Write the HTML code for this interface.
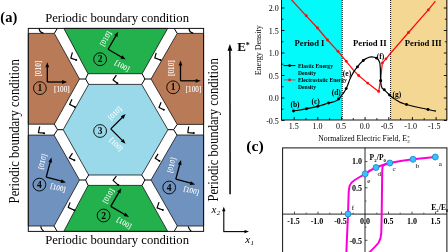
<!DOCTYPE html>
<html><head><meta charset="utf-8"><title>Figure</title>
<style>html,body{margin:0;padding:0;background:#fff;overflow:hidden}svg{display:block}text{font-family:"Liberation Serif",serif}</style>
</head><body>
<svg width="448" height="252" viewBox="0 0 448 252">
<rect width="448" height="252" fill="#fff"/>
<polygon points="28.3,33.4 54.3,33.4 79.5,79.0 54.3,124.2 28.3,124.2" fill="#B97A57" stroke="#111" stroke-width="0.8"/>
<polygon points="203.6,33.4 177.2,33.4 151.0,79.0 177.2,124.4 203.6,124.4" fill="#B97A57" stroke="#111" stroke-width="0.8"/>
<polygon points="63.8,28.4 167.7,28.4 142.1,73.7 88.0,73.7" fill="#22B14C" stroke="#111" stroke-width="0.8"/>
<polygon points="88.7,84.4 141.7,84.4 167.9,129.7 141.7,175.0 88.7,175.0 63.2,129.7" fill="#99D9EA" stroke="#111" stroke-width="0.8"/>
<polygon points="28.3,135.1 54.0,135.1 79.5,180.0 54.0,226.0 28.3,226.0" fill="#7092BE" stroke="#111" stroke-width="0.8"/>
<polygon points="203.6,135.0 177.0,135.0 151.0,180.0 177.3,226.0 203.6,226.0" fill="#7092BE" stroke="#111" stroke-width="0.8"/>
<polygon points="88.1,185.4 142.0,185.4 167.7,231.4 63.8,231.4" fill="#22B14C" stroke="#111" stroke-width="0.8"/>
<line x1="79.5" y1="79.0" x2="85.6" y2="79.0" stroke="#000" stroke-width="1.0" />
<line x1="88.0" y1="73.7" x2="85.6" y2="79.0" stroke="#000" stroke-width="1.0" />
<line x1="88.7" y1="84.4" x2="85.6" y2="79.0" stroke="#000" stroke-width="1.0" />
<line x1="151.0" y1="79.0" x2="144.9" y2="79.0" stroke="#000" stroke-width="1.0" />
<line x1="142.1" y1="73.7" x2="144.9" y2="79.0" stroke="#000" stroke-width="1.0" />
<line x1="141.7" y1="84.4" x2="144.9" y2="79.0" stroke="#000" stroke-width="1.0" />
<line x1="79.5" y1="180.0" x2="85.6" y2="180.0" stroke="#000" stroke-width="1.0" />
<line x1="88.7" y1="175.0" x2="85.6" y2="180.0" stroke="#000" stroke-width="1.0" />
<line x1="88.1" y1="185.4" x2="85.6" y2="180.0" stroke="#000" stroke-width="1.0" />
<line x1="151.0" y1="180.0" x2="144.9" y2="180.0" stroke="#000" stroke-width="1.0" />
<line x1="141.7" y1="175.0" x2="144.9" y2="180.0" stroke="#000" stroke-width="1.0" />
<line x1="142.0" y1="185.4" x2="144.9" y2="180.0" stroke="#000" stroke-width="1.0" />
<line x1="63.2" y1="129.7" x2="57.5" y2="129.7" stroke="#000" stroke-width="1.0" />
<line x1="54.3" y1="124.2" x2="57.5" y2="129.7" stroke="#000" stroke-width="1.0" />
<line x1="54.0" y1="135.1" x2="57.5" y2="129.7" stroke="#000" stroke-width="1.0" />
<line x1="167.9" y1="129.7" x2="173.6" y2="129.7" stroke="#000" stroke-width="1.0" />
<line x1="177.2" y1="124.4" x2="173.6" y2="129.7" stroke="#000" stroke-width="1.0" />
<line x1="177.0" y1="135.0" x2="173.6" y2="129.7" stroke="#000" stroke-width="1.0" />
<line x1="54.3" y1="33.4" x2="57.3" y2="28.4" stroke="#000" stroke-width="1.0" />
<line x1="177.2" y1="33.4" x2="174.2" y2="28.4" stroke="#000" stroke-width="1.0" />
<line x1="54.0" y1="226.0" x2="57.2" y2="231.4" stroke="#000" stroke-width="1.0" />
<line x1="177.3" y1="226.0" x2="174.1" y2="231.4" stroke="#000" stroke-width="1.0" />
<rect x="28.3" y="28.4" width="175.3" height="203.0" fill="none" stroke="#111" stroke-width="1"/>
<polyline points="72.4,52.4 70.8,58.1 76.2,60.0" fill="none" stroke="#000" stroke-width="1.2" stroke-linejoin="round"/>
<circle cx="76.2" cy="60.0" r="1.0" fill="#000"/>
<polyline points="156.2,52.9 154.8,57.9 160.5,60.0" fill="none" stroke="#000" stroke-width="1.2" stroke-linejoin="round"/>
<circle cx="160.5" cy="60.0" r="1.0" fill="#000"/>
<polyline points="116.4,75.1 113.1,79.9 117.4,83.2" fill="none" stroke="#000" stroke-width="1.2" stroke-linejoin="round"/>
<circle cx="117.4" cy="83.2" r="1.0" fill="#000"/>
<polyline points="72.0,99.2 69.6,104.4 74.9,107.0" fill="none" stroke="#000" stroke-width="1.2" stroke-linejoin="round"/>
<circle cx="74.9" cy="107.0" r="1.0" fill="#000"/>
<polyline points="161.1,102.3 159.0,107.5 163.8,109.7" fill="none" stroke="#000" stroke-width="1.2" stroke-linejoin="round"/>
<circle cx="163.8" cy="109.7" r="1.0" fill="#000"/>
<polyline points="39.7,126.5 38.4,132.6 44.1,133.2" fill="none" stroke="#000" stroke-width="1.2" stroke-linejoin="round"/>
<circle cx="44.1" cy="133.2" r="1.0" fill="#000"/>
<polyline points="188.7,126.5 187.8,132.6 193.8,133.1" fill="none" stroke="#000" stroke-width="1.2" stroke-linejoin="round"/>
<circle cx="193.8" cy="133.1" r="1.0" fill="#000"/>
<polyline points="72.5,153.1 69.3,157.9 74.4,160.2" fill="none" stroke="#000" stroke-width="1.2" stroke-linejoin="round"/>
<circle cx="74.4" cy="160.2" r="1.0" fill="#000"/>
<polyline points="158.1,153.8 155.2,158.3 159.5,161.0" fill="none" stroke="#000" stroke-width="1.2" stroke-linejoin="round"/>
<circle cx="159.5" cy="161.0" r="1.0" fill="#000"/>
<polyline points="116.4,176.1 113.1,180.4 118.3,185.1" fill="none" stroke="#000" stroke-width="1.2" stroke-linejoin="round"/>
<circle cx="118.3" cy="185.1" r="1.0" fill="#000"/>
<polyline points="70.1,202.4 68.2,207.4 74.4,210.2" fill="none" stroke="#000" stroke-width="1.2" stroke-linejoin="round"/>
<circle cx="74.4" cy="210.2" r="1.0" fill="#000"/>
<polyline points="159.0,202.1 157.1,207.9 162.9,210.0" fill="none" stroke="#000" stroke-width="1.2" stroke-linejoin="round"/>
<circle cx="162.9" cy="210.0" r="1.0" fill="#000"/>
<path d="M39.2,28.6 Q39.6,32.6 43.5,33.1" fill="none" stroke="#000" stroke-width="1.2"/>
<path d="M189,28.6 Q189.4,32.6 193.3,33.1" fill="none" stroke="#000" stroke-width="1.2"/>
<path d="M40.6,226.4 Q41.4,229.6 43.6,231.2" fill="none" stroke="#000" stroke-width="1.2"/>
<path d="M188.2,226.4 Q189,229.6 191.2,231.2" fill="none" stroke="#000" stroke-width="1.2"/>
<line x1="47.3" y1="82.0" x2="62.6" y2="82.0" stroke="#000" stroke-width="1.3" />
<polygon points="67.1,82.0 62.1,83.9 62.1,80.1" fill="#000"/>
<line x1="47.3" y1="82.0" x2="47.3" y2="66.7" stroke="#000" stroke-width="1.3" />
<polygon points="47.3,62.2 49.2,67.2 45.4,67.2" fill="#000"/>
<circle cx="39.9" cy="88.1" r="6.4" fill="none" stroke="#000" stroke-width="0.9"/>
<text x="39.9" y="91.2" font-size="9.5" text-anchor="middle" font-weight="bold" font-style="normal" fill="#000" >1</text>
<text x="40.9" y="68.6" font-size="7.2" text-anchor="middle" font-weight="normal" font-style="normal" fill="#fff" transform="rotate(-90 40.9 68.6)" stroke="#fff" stroke-width="0.1">[010]</text>
<text x="61.9" y="91.5" font-size="7.2" text-anchor="middle" font-weight="normal" font-style="normal" fill="#fff" transform="rotate(0 61.9 91.5)" stroke="#fff" stroke-width="0.1">[100]</text>
<line x1="180.5" y1="80.8" x2="196.2" y2="80.8" stroke="#000" stroke-width="1.3" />
<polygon points="200.7,80.8 195.7,82.7 195.7,78.9" fill="#000"/>
<line x1="180.5" y1="80.8" x2="180.5" y2="65.1" stroke="#000" stroke-width="1.3" />
<polygon points="180.5,60.6 182.4,65.6 178.6,65.6" fill="#000"/>
<circle cx="173.1" cy="87.3" r="6.4" fill="none" stroke="#000" stroke-width="0.9"/>
<text x="173.1" y="90.4" font-size="9.5" text-anchor="middle" font-weight="bold" font-style="normal" fill="#000" >1</text>
<text x="173.9" y="68.1" font-size="7.2" text-anchor="middle" font-weight="normal" font-style="normal" fill="#fff" transform="rotate(-90 173.9 68.1)" stroke="#fff" stroke-width="0.1">[010]</text>
<text x="193.5" y="91.5" font-size="7.2" text-anchor="middle" font-weight="normal" font-style="normal" fill="#fff" transform="rotate(0 193.5 91.5)" stroke="#fff" stroke-width="0.1">[100]</text>
<line x1="108.1" y1="49.3" x2="121.8" y2="57.2" stroke="#000" stroke-width="1.3" />
<polygon points="125.7,59.4 120.4,58.6 122.3,55.3" fill="#000"/>
<line x1="108.1" y1="49.3" x2="116.0" y2="35.6" stroke="#000" stroke-width="1.3" />
<polygon points="118.2,31.7 117.4,37.0 114.1,35.1" fill="#000"/>
<circle cx="100.1" cy="59.2" r="6.4" fill="none" stroke="#000" stroke-width="0.9"/>
<text x="100.1" y="62.3" font-size="9.5" text-anchor="middle" font-weight="bold" font-style="normal" fill="#000" >2</text>
<text x="107.7" y="39.9" font-size="7.2" text-anchor="middle" font-weight="normal" font-style="normal" fill="#fff" transform="rotate(-60 107.7 39.9)" stroke="#fff" stroke-width="0.1">[010]</text>
<text x="121.0" y="67.9" font-size="7.2" text-anchor="middle" font-weight="normal" font-style="normal" fill="#fff" transform="rotate(30 121.0 67.9)" stroke="#fff" stroke-width="0.1">[100]</text>
<line x1="110.8" y1="128.9" x2="122.5" y2="140.6" stroke="#000" stroke-width="1.3" />
<polygon points="125.6,143.7 120.8,141.6 123.5,138.9" fill="#000"/>
<line x1="110.8" y1="128.9" x2="122.5" y2="117.2" stroke="#000" stroke-width="1.3" />
<polygon points="125.6,114.1 123.5,118.9 120.8,116.2" fill="#000"/>
<circle cx="100.1" cy="131.0" r="6.4" fill="none" stroke="#000" stroke-width="0.9"/>
<text x="100.1" y="134.1" font-size="9.5" text-anchor="middle" font-weight="bold" font-style="normal" fill="#000" >3</text>
<text x="116.6" y="115.0" font-size="7.2" text-anchor="middle" font-weight="normal" font-style="normal" fill="#fff" transform="rotate(-45 116.6 115.0)" stroke="#fff" stroke-width="0.1">[010]</text>
<text x="114.4" y="146.0" font-size="7.2" text-anchor="middle" font-weight="normal" font-style="normal" fill="#fff" transform="rotate(45 114.4 146.0)" stroke="#fff" stroke-width="0.1">[100]</text>
<line x1="46.2" y1="177.1" x2="61.6" y2="181.2" stroke="#000" stroke-width="1.3" />
<polygon points="65.9,182.4 60.6,182.9 61.6,179.3" fill="#000"/>
<line x1="46.2" y1="177.1" x2="50.3" y2="161.7" stroke="#000" stroke-width="1.3" />
<polygon points="51.5,157.4 52.0,162.7 48.4,161.7" fill="#000"/>
<circle cx="39.4" cy="184.6" r="6.4" fill="none" stroke="#000" stroke-width="0.9"/>
<text x="39.4" y="187.7" font-size="9.5" text-anchor="middle" font-weight="bold" font-style="normal" fill="#000" >4</text>
<text x="44.8" y="162.3" font-size="7.2" text-anchor="middle" font-weight="normal" font-style="normal" fill="#fff" transform="rotate(-75 44.8 162.3)" stroke="#fff" stroke-width="0.1">[010]</text>
<text x="57.4" y="190.1" font-size="7.2" text-anchor="middle" font-weight="normal" font-style="normal" fill="#fff" transform="rotate(15 57.4 190.1)" stroke="#fff" stroke-width="0.1">[100]</text>
<line x1="175.8" y1="179.2" x2="190.8" y2="183.2" stroke="#000" stroke-width="1.3" />
<polygon points="195.1,184.4 189.8,184.9 190.8,181.2" fill="#000"/>
<line x1="175.8" y1="179.2" x2="179.8" y2="164.2" stroke="#000" stroke-width="1.3" />
<polygon points="181.0,159.9 181.5,165.2 177.8,164.2" fill="#000"/>
<circle cx="169.2" cy="187.5" r="6.4" fill="none" stroke="#000" stroke-width="0.9"/>
<text x="169.2" y="190.6" font-size="9.5" text-anchor="middle" font-weight="bold" font-style="normal" fill="#000" >4</text>
<text x="173.9" y="165.8" font-size="7.2" text-anchor="middle" font-weight="normal" font-style="normal" fill="#fff" transform="rotate(-75 173.9 165.8)" stroke="#fff" stroke-width="0.1">[010]</text>
<text x="190.7" y="192.8" font-size="7.2" text-anchor="middle" font-weight="normal" font-style="normal" fill="#fff" transform="rotate(15 190.7 192.8)" stroke="#fff" stroke-width="0.1">[100]</text>
<line x1="110.8" y1="206.4" x2="125.1" y2="214.7" stroke="#000" stroke-width="1.3" />
<polygon points="129.0,216.9 123.7,216.0 125.6,212.8" fill="#000"/>
<line x1="110.8" y1="206.4" x2="119.0" y2="192.1" stroke="#000" stroke-width="1.3" />
<polygon points="121.3,188.2 120.4,193.5 117.2,191.6" fill="#000"/>
<circle cx="103.6" cy="215.5" r="6.4" fill="none" stroke="#000" stroke-width="0.9"/>
<text x="103.6" y="218.6" font-size="9.5" text-anchor="middle" font-weight="bold" font-style="normal" fill="#000" >2</text>
<text x="110.5" y="197.2" font-size="7.2" text-anchor="middle" font-weight="normal" font-style="normal" fill="#fff" transform="rotate(-60 110.5 197.2)" stroke="#fff" stroke-width="0.1">[010]</text>
<text x="123.0" y="225.0" font-size="7.2" text-anchor="middle" font-weight="normal" font-style="normal" fill="#fff" transform="rotate(30 123.0 225.0)" stroke="#fff" stroke-width="0.1">[100]</text>
<text x="0.3" y="22.0" font-size="14.5" text-anchor="start" font-weight="bold" font-style="normal" fill="#000" >(a)</text>
<text x="45.2" y="21.9" font-size="13.5" text-anchor="start" font-weight="normal" font-style="normal" fill="#000" textLength="143.8" lengthAdjust="spacingAndGlyphs">Periodic boundary condition</text>
<text x="45.2" y="243.9" font-size="13.5" text-anchor="start" font-weight="normal" font-style="normal" fill="#000" textLength="143.8" lengthAdjust="spacingAndGlyphs">Periodic boundary condition</text>
<text x="18.9" y="203.4" font-size="14.2" text-anchor="start" font-weight="normal" font-style="normal" fill="#000" transform="rotate(-90 18.9 203.4)" textLength="144.2" lengthAdjust="spacingAndGlyphs">Periodic boundary condition</text>
<text x="217.9" y="201.6" font-size="14.2" text-anchor="start" font-weight="normal" font-style="normal" fill="#000" transform="rotate(-90 217.9 201.6)" textLength="143.3" lengthAdjust="spacingAndGlyphs">Periodic boundary condition</text>
<line x1="230.1" y1="194.3" x2="229.9" y2="50.3" stroke="#000" stroke-width="1.5" />
<polygon points="229.9,44.0 232.3,50.8 227.5,50.8" fill="#000"/>
<text x="237.2" y="51.0" font-size="13" text-anchor="start" font-weight="bold" font-style="normal" fill="#000" >E</text>
<text x="245.8" y="47.5" font-size="8" text-anchor="start" font-weight="bold" font-style="normal" fill="#000" >*</text>
<line x1="223.8" y1="231.6" x2="223.8" y2="210.8" stroke="#000" stroke-width="1.1" />
<polygon points="223.8,206.8 225.5,211.3 222.1,211.3" fill="#000"/>
<line x1="223.3" y1="231.6" x2="245.0" y2="231.6" stroke="#000" stroke-width="1.1" />
<polygon points="249.0,231.6 244.5,233.3 244.5,229.9" fill="#000"/>
<text x="211.5" y="213.2" font-size="11" text-anchor="start" font-weight="normal" font-style="italic" fill="#000" >x</text>
<text x="216.7" y="215.3" font-size="7" text-anchor="start" font-weight="normal" font-style="italic" fill="#000" >2</text>
<text x="245.3" y="243.3" font-size="11" text-anchor="start" font-weight="normal" font-style="italic" fill="#000" >x</text>
<text x="250.5" y="245.4" font-size="7" text-anchor="start" font-weight="normal" font-style="italic" fill="#000" >1</text>
<rect x="281.5" y="-2" width="60.7" height="122.0" fill="#02FAFA"/>
<rect x="390.6" y="-2" width="58.4" height="122.0" fill="#F4D793"/>
<line x1="342.2" y1="0.0" x2="342.2" y2="120.0" stroke="#000" stroke-width="1.0" stroke-dasharray="1 1"/>
<line x1="390.6" y1="0.0" x2="390.6" y2="120.0" stroke="#000" stroke-width="1.0" stroke-dasharray="1 1"/>
<rect x="281.5" y="-2" width="165.3" height="122.0" fill="none" stroke="#000" stroke-width="0.9"/>
<line x1="281.5" y1="8.0" x2="284.5" y2="8.0" stroke="#000" stroke-width="0.9" />
<line x1="446.8" y1="8.0" x2="443.8" y2="8.0" stroke="#000" stroke-width="0.9" />
<text x="278.8" y="11.0" font-size="8" text-anchor="end" font-weight="normal" font-style="normal" fill="#000" >2.0</text>
<line x1="281.5" y1="30.5" x2="284.5" y2="30.5" stroke="#000" stroke-width="0.9" />
<line x1="446.8" y1="30.5" x2="443.8" y2="30.5" stroke="#000" stroke-width="0.9" />
<text x="278.8" y="33.5" font-size="8" text-anchor="end" font-weight="normal" font-style="normal" fill="#000" >1.5</text>
<line x1="281.5" y1="53.0" x2="284.5" y2="53.0" stroke="#000" stroke-width="0.9" />
<line x1="446.8" y1="53.0" x2="443.8" y2="53.0" stroke="#000" stroke-width="0.9" />
<text x="278.8" y="56.0" font-size="8" text-anchor="end" font-weight="normal" font-style="normal" fill="#000" >1.0</text>
<line x1="281.5" y1="75.5" x2="284.5" y2="75.5" stroke="#000" stroke-width="0.9" />
<line x1="446.8" y1="75.5" x2="443.8" y2="75.5" stroke="#000" stroke-width="0.9" />
<text x="278.8" y="78.5" font-size="8" text-anchor="end" font-weight="normal" font-style="normal" fill="#000" >0.5</text>
<line x1="281.5" y1="98.0" x2="284.5" y2="98.0" stroke="#000" stroke-width="0.9" />
<line x1="446.8" y1="98.0" x2="443.8" y2="98.0" stroke="#000" stroke-width="0.9" />
<text x="278.8" y="101.0" font-size="8" text-anchor="end" font-weight="normal" font-style="normal" fill="#000" >0.0</text>
<line x1="281.5" y1="120.5" x2="284.5" y2="120.5" stroke="#000" stroke-width="0.9" />
<line x1="446.8" y1="120.5" x2="443.8" y2="120.5" stroke="#000" stroke-width="0.9" />
<text x="278.8" y="123.5" font-size="8" text-anchor="end" font-weight="normal" font-style="normal" fill="#000" >-0.5</text>
<line x1="281.5" y1="19.2" x2="283.5" y2="19.2" stroke="#000" stroke-width="0.8" />
<line x1="446.8" y1="19.2" x2="444.8" y2="19.2" stroke="#000" stroke-width="0.8" />
<line x1="281.5" y1="41.8" x2="283.5" y2="41.8" stroke="#000" stroke-width="0.8" />
<line x1="446.8" y1="41.8" x2="444.8" y2="41.8" stroke="#000" stroke-width="0.8" />
<line x1="281.5" y1="64.2" x2="283.5" y2="64.2" stroke="#000" stroke-width="0.8" />
<line x1="446.8" y1="64.2" x2="444.8" y2="64.2" stroke="#000" stroke-width="0.8" />
<line x1="281.5" y1="86.8" x2="283.5" y2="86.8" stroke="#000" stroke-width="0.8" />
<line x1="446.8" y1="86.8" x2="444.8" y2="86.8" stroke="#000" stroke-width="0.8" />
<line x1="281.5" y1="109.2" x2="283.5" y2="109.2" stroke="#000" stroke-width="0.8" />
<line x1="446.8" y1="109.2" x2="444.8" y2="109.2" stroke="#000" stroke-width="0.8" />
<line x1="294.2" y1="120.0" x2="294.2" y2="117.0" stroke="#000" stroke-width="0.9" />
<text x="293.8" y="129.2" font-size="8" text-anchor="middle" font-weight="normal" font-style="normal" fill="#000" >1.5</text>
<line x1="317.8" y1="120.0" x2="317.8" y2="117.0" stroke="#000" stroke-width="0.9" />
<text x="317.4" y="129.2" font-size="8" text-anchor="middle" font-weight="normal" font-style="normal" fill="#000" >1.0</text>
<line x1="341.5" y1="120.0" x2="341.5" y2="117.0" stroke="#000" stroke-width="0.9" />
<text x="341.1" y="129.2" font-size="8" text-anchor="middle" font-weight="normal" font-style="normal" fill="#000" >0.5</text>
<line x1="365.1" y1="120.0" x2="365.1" y2="117.0" stroke="#000" stroke-width="0.9" />
<text x="364.7" y="129.2" font-size="8" text-anchor="middle" font-weight="normal" font-style="normal" fill="#000" >0.0</text>
<line x1="388.8" y1="120.0" x2="388.8" y2="117.0" stroke="#000" stroke-width="0.9" />
<text x="387.0" y="129.2" font-size="8" text-anchor="middle" font-weight="normal" font-style="normal" fill="#000" >-0.5</text>
<line x1="412.4" y1="120.0" x2="412.4" y2="117.0" stroke="#000" stroke-width="0.9" />
<text x="410.6" y="129.2" font-size="8" text-anchor="middle" font-weight="normal" font-style="normal" fill="#000" >-1.0</text>
<line x1="436.1" y1="120.0" x2="436.1" y2="117.0" stroke="#000" stroke-width="0.9" />
<text x="434.3" y="129.2" font-size="8" text-anchor="middle" font-weight="normal" font-style="normal" fill="#000" >-1.5</text>
<line x1="306.0" y1="120.0" x2="306.0" y2="118.0" stroke="#000" stroke-width="0.8" />
<line x1="329.6" y1="120.0" x2="329.6" y2="118.0" stroke="#000" stroke-width="0.8" />
<line x1="353.3" y1="120.0" x2="353.3" y2="118.0" stroke="#000" stroke-width="0.8" />
<line x1="376.9" y1="120.0" x2="376.9" y2="118.0" stroke="#000" stroke-width="0.8" />
<line x1="400.6" y1="120.0" x2="400.6" y2="118.0" stroke="#000" stroke-width="0.8" />
<line x1="424.2" y1="120.0" x2="424.2" y2="118.0" stroke="#000" stroke-width="0.8" />
<text x="318.2" y="140.9" font-size="7.8" text-anchor="start" font-weight="normal" font-style="normal" fill="#000" textLength="88.9" lengthAdjust="spacingAndGlyphs">Normalized Electric Field, E</text>
<text x="407.3" y="143.0" font-size="5" text-anchor="start" font-weight="normal" font-style="normal" fill="#000" >2</text>
<text x="407.3" y="138.6" font-size="5" text-anchor="start" font-weight="normal" font-style="normal" fill="#000" >*</text>
<text x="261.2" y="50.3" font-size="8.2" text-anchor="middle" font-weight="normal" font-style="normal" fill="#000" transform="rotate(-90 261.2 50.3)" textLength="50" lengthAdjust="spacingAndGlyphs">Energy Density</text>
<polyline points="289.7,-2.0 291.7,0.0 306.2,15.8 317.5,28.0 327.5,40.0 338.0,51.3 346.3,61.3 353.8,70.7 358.6,75.5 367.6,83.1 378.7,91.4 380.5,80.7 381.7,68.8 382.4,62.9 386.0,58.8 389.5,54.5 408.5,32.5 428.3,9.9 435.4,1.2" fill="none" stroke="#FF0808" stroke-width="1.2" stroke-linejoin="round"/>
<circle cx="306.25" cy="15.75" r="1.4" fill="#FF0808"/>
<circle cx="317.5" cy="28" r="1.4" fill="#FF0808"/>
<circle cx="327.5" cy="40" r="1.4" fill="#FF0808"/>
<circle cx="338" cy="51.3" r="1.4" fill="#FF0808"/>
<circle cx="346.3" cy="61.3" r="1.4" fill="#FF0808"/>
<circle cx="358.6" cy="75.5" r="1.4" fill="#FF0808"/>
<circle cx="367.6" cy="83.1" r="1.4" fill="#FF0808"/>
<circle cx="378.7" cy="91.4" r="1.4" fill="#FF0808"/>
<circle cx="380.6" cy="80.7" r="1.4" fill="#FF0808"/>
<circle cx="382.4" cy="62.9" r="1.4" fill="#FF0808"/>
<circle cx="386" cy="58.8" r="1.4" fill="#FF0808"/>
<circle cx="408.5" cy="32.5" r="1.4" fill="#FF0808"/>
<circle cx="428.3" cy="9.9" r="1.4" fill="#FF0808"/>
<path d="M293.5,111.0 C297.0,110.4 300.0,110.1 306.5,108.8 C313.0,107.5 311.9,107.8 317.8,106.3 C323.7,104.8 323.8,104.4 328.5,103.0 C333.2,101.6 332.5,102.4 335.3,101.2 C338.1,100.0 337.2,100.3 339.0,98.6 C340.8,96.9 340.0,97.7 341.9,95.0 C343.8,92.3 343.7,93.7 346.2,88.6 C348.7,83.5 348.4,81.8 351.4,76.0 C354.4,70.2 354.2,71.0 357.4,66.9 C360.6,62.8 360.5,62.9 363.3,60.5 C366.1,58.1 365.8,58.8 368.0,57.8 C370.2,56.8 369.5,56.8 371.7,56.9 C373.9,57.0 374.5,57.0 376.4,58.1 C378.3,59.2 378.0,58.8 379.0,61.0 C380.0,63.2 379.7,61.2 380.2,66.5 C380.7,71.8 380.2,75.1 380.7,80.7 C381.2,86.3 380.9,85.0 381.9,87.4 C382.9,89.8 382.3,87.8 384.3,89.8 C386.3,91.8 387.2,92.8 389.5,95.0 C391.8,97.2 391.2,96.5 393.1,97.9 C395.0,99.3 392.9,98.4 396.5,100.2 C400.1,102.0 398.1,102.0 406.5,104.5 C414.9,107.0 420.1,107.7 428.0,109.5 C435.9,111.3 433.9,110.7 436.0,111.2" fill="none" stroke="#000" stroke-width="1.2"/>
<circle cx="293.5" cy="111" r="1.45" fill="#000"/>
<circle cx="306.5" cy="108.8" r="1.45" fill="#000"/>
<circle cx="317.8" cy="106.3" r="1.45" fill="#000"/>
<circle cx="328.5" cy="103" r="1.45" fill="#000"/>
<circle cx="338.6" cy="99" r="1.45" fill="#000"/>
<circle cx="346.2" cy="88.6" r="1.45" fill="#000"/>
<circle cx="357.4" cy="66.9" r="1.45" fill="#000"/>
<circle cx="363.3" cy="60.5" r="1.45" fill="#000"/>
<circle cx="376.4" cy="58.1" r="1.45" fill="#000"/>
<circle cx="380.7" cy="80.7" r="1.45" fill="#000"/>
<circle cx="384.3" cy="89.8" r="1.45" fill="#000"/>
<circle cx="389.5" cy="95" r="1.45" fill="#000"/>
<circle cx="406.5" cy="104.5" r="1.45" fill="#000"/>
<circle cx="428" cy="109.5" r="1.45" fill="#000"/>
<text x="295.0" y="107.3" font-size="7.5" text-anchor="middle" font-weight="bold" font-style="normal" fill="#000" >(b)</text>
<text x="315.6" y="104.2" font-size="7.5" text-anchor="middle" font-weight="bold" font-style="normal" fill="#000" >(c)</text>
<text x="336.3" y="94.8" font-size="7.5" text-anchor="middle" font-weight="bold" font-style="normal" fill="#000" >(d)</text>
<text x="347.0" y="75.6" font-size="7.5" text-anchor="middle" font-weight="bold" font-style="normal" fill="#000" >(e)</text>
<text x="380.4" y="58.5" font-size="7.5" text-anchor="middle" font-weight="bold" font-style="normal" fill="#000" >(f)</text>
<text x="396.9" y="96.9" font-size="7.5" text-anchor="middle" font-weight="bold" font-style="normal" fill="#000" >(g)</text>
<text x="309.5" y="46.2" font-size="8.6" text-anchor="middle" font-weight="bold" font-style="normal" fill="#000" >Period I</text>
<text x="369.8" y="46.2" font-size="8.7" text-anchor="middle" font-weight="bold" font-style="normal" fill="#000" >Period II</text>
<text x="423.2" y="46.2" font-size="8.7" text-anchor="middle" font-weight="bold" font-style="normal" fill="#000" >Period III</text>
<line x1="283.6" y1="65.6" x2="295.5" y2="65.6" stroke="#000" stroke-width="1.0" />
<circle cx="289.6" cy="65.6" r="1.4" fill="#000"/>
<line x1="283.6" y1="79.9" x2="295.5" y2="79.9" stroke="#D05050" stroke-width="1.0" />
<circle cx="289.6" cy="79.9" r="1.4" fill="#FF0808"/>
<text x="298.0" y="67.6" font-size="5.6" text-anchor="start" font-weight="bold" font-style="normal" fill="#000" >Elastic Energy</text>
<text x="298.0" y="74.6" font-size="5.6" text-anchor="start" font-weight="bold" font-style="normal" fill="#000" >Density</text>
<text x="298.0" y="81.9" font-size="5.6" text-anchor="start" font-weight="bold" font-style="normal" fill="#000" >Electrostatic Energy</text>
<text x="298.0" y="89.1" font-size="5.6" text-anchor="start" font-weight="bold" font-style="normal" fill="#000" >Density</text>
<text x="246.3" y="150.5" font-size="15" text-anchor="start" font-weight="bold" font-style="normal" fill="#000" textLength="17.5" lengthAdjust="spacingAndGlyphs">(c)</text>
<rect x="282.6" y="147.9" width="164.3" height="110" fill="#fff" stroke="#111" stroke-width="1.0"/>
<line x1="282.6" y1="214.1" x2="446.9" y2="214.1" stroke="#111" stroke-width="0.9" />
<line x1="365.0" y1="147.9" x2="365.0" y2="254.0" stroke="#111" stroke-width="0.9" />
<line x1="294.5" y1="214.1" x2="294.5" y2="211.6" stroke="#111" stroke-width="0.7" />
<line x1="318.0" y1="214.1" x2="318.0" y2="211.6" stroke="#111" stroke-width="0.7" />
<line x1="341.5" y1="214.1" x2="341.5" y2="211.6" stroke="#111" stroke-width="0.7" />
<line x1="388.5" y1="214.1" x2="388.5" y2="211.6" stroke="#111" stroke-width="0.7" />
<line x1="412.0" y1="214.1" x2="412.0" y2="211.6" stroke="#111" stroke-width="0.7" />
<line x1="435.5" y1="214.1" x2="435.5" y2="211.6" stroke="#111" stroke-width="0.7" />
<line x1="306.2" y1="214.1" x2="306.2" y2="212.6" stroke="#111" stroke-width="0.6" />
<line x1="329.8" y1="214.1" x2="329.8" y2="212.6" stroke="#111" stroke-width="0.6" />
<line x1="353.2" y1="214.1" x2="353.2" y2="212.6" stroke="#111" stroke-width="0.6" />
<line x1="376.8" y1="214.1" x2="376.8" y2="212.6" stroke="#111" stroke-width="0.6" />
<line x1="400.2" y1="214.1" x2="400.2" y2="212.6" stroke="#111" stroke-width="0.6" />
<line x1="423.8" y1="214.1" x2="423.8" y2="212.6" stroke="#111" stroke-width="0.6" />
<text x="293.5" y="224.3" font-size="8" text-anchor="middle" font-weight="bold" font-style="normal" fill="#000" >-1.5</text>
<text x="317.0" y="224.3" font-size="8" text-anchor="middle" font-weight="bold" font-style="normal" fill="#000" >-1.0</text>
<text x="340.5" y="224.3" font-size="8" text-anchor="middle" font-weight="bold" font-style="normal" fill="#000" >-0.5</text>
<text x="365.0" y="224.3" font-size="8" text-anchor="middle" font-weight="bold" font-style="normal" fill="#000" >0.0</text>
<text x="388.5" y="224.3" font-size="8" text-anchor="middle" font-weight="bold" font-style="normal" fill="#000" >0.5</text>
<text x="412.0" y="224.3" font-size="8" text-anchor="middle" font-weight="bold" font-style="normal" fill="#000" >1.0</text>
<text x="435.5" y="224.3" font-size="8" text-anchor="middle" font-weight="bold" font-style="normal" fill="#000" >1.5</text>
<line x1="365.0" y1="161.6" x2="367.5" y2="161.6" stroke="#111" stroke-width="0.7" />
<text x="362.1" y="164.4" font-size="8" text-anchor="end" font-weight="bold" font-style="normal" fill="#000" >1.0</text>
<line x1="365.0" y1="187.8" x2="367.5" y2="187.8" stroke="#111" stroke-width="0.7" />
<text x="362.1" y="190.7" font-size="8" text-anchor="end" font-weight="bold" font-style="normal" fill="#000" >0.5</text>
<line x1="365.0" y1="240.3" x2="367.5" y2="240.3" stroke="#111" stroke-width="0.7" />
<text x="362.1" y="244.0" font-size="8" text-anchor="end" font-weight="bold" font-style="normal" fill="#000" >-0.5</text>
<line x1="365.0" y1="174.7" x2="366.5" y2="174.7" stroke="#111" stroke-width="0.6" />
<line x1="365.0" y1="201.0" x2="366.5" y2="201.0" stroke="#111" stroke-width="0.6" />
<line x1="365.0" y1="227.2" x2="366.5" y2="227.2" stroke="#111" stroke-width="0.6" />
<path d="M435.3,157 L413,159.3 Q400,160.8 389.8,163 Q382,165 376,167.5 Q370,170.3 365.3,173.8 L359.75,177 L354.75,180 Q351,182.3 349.8,185.5 Q348.9,188 348.7,192 L348,214 L346.3,254" fill="none" stroke="#FA00D8" stroke-width="2.0" stroke-linejoin="round"/>
<path d="M389.8,163 Q385,163.8 383.2,165.5 Q382.2,167 382.2,172 L381.7,214 L381.3,233 Q381,239 378.5,242.75 Q376,246 369.75,252 L367,254.5" fill="none" stroke="#FA00D8" stroke-width="2.0" stroke-linejoin="round"/>
<circle cx="435.3" cy="157" r="3.0" fill="#33C3FF" stroke="#1C80C8" stroke-width="0.8"/>
<circle cx="413" cy="159.3" r="3.0" fill="#33C3FF" stroke="#1C80C8" stroke-width="0.8"/>
<circle cx="389.8" cy="163" r="3.0" fill="#33C3FF" stroke="#1C80C8" stroke-width="0.8"/>
<circle cx="376" cy="167.5" r="3.0" fill="#33C3FF" stroke="#1C80C8" stroke-width="0.8"/>
<circle cx="365.2" cy="173.8" r="3.0" fill="#33C3FF" stroke="#1C80C8" stroke-width="0.8"/>
<circle cx="348" cy="214" r="3.0" fill="#33C3FF" stroke="#1C80C8" stroke-width="0.8"/>
<text x="440.3" y="166.3" font-size="7" text-anchor="middle" font-weight="normal" font-style="normal" fill="#000" >a</text>
<text x="417.3" y="167.7" font-size="7" text-anchor="middle" font-weight="normal" font-style="normal" fill="#000" >b</text>
<text x="394.0" y="170.8" font-size="7" text-anchor="middle" font-weight="normal" font-style="normal" fill="#000" >c</text>
<text x="379.3" y="175.5" font-size="7" text-anchor="middle" font-weight="normal" font-style="normal" fill="#000" >d</text>
<text x="368.7" y="183.3" font-size="7" text-anchor="middle" font-weight="normal" font-style="normal" fill="#000" >e</text>
<text x="352.8" y="209.7" font-size="7" text-anchor="middle" font-weight="normal" font-style="normal" fill="#000" >f</text>
<text x="369.6" y="159.8" font-size="7.6" text-anchor="start" font-weight="bold" font-style="normal" fill="#000" >P</text>
<text x="374.2" y="161.6" font-size="4.8" text-anchor="start" font-weight="bold" font-style="normal" fill="#000" >2</text>
<text x="376.8" y="159.8" font-size="7.6" text-anchor="start" font-weight="bold" font-style="normal" fill="#000" >/P</text>
<text x="383.6" y="161.6" font-size="4.8" text-anchor="start" font-weight="bold" font-style="normal" fill="#000" >0</text>
<text x="431.2" y="209.9" font-size="7.6" text-anchor="start" font-weight="bold" font-style="normal" fill="#000" >E</text>
<text x="436.2" y="211.7" font-size="4.8" text-anchor="start" font-weight="bold" font-style="normal" fill="#000" >2</text>
<text x="438.8" y="209.9" font-size="7.6" text-anchor="start" font-weight="bold" font-style="normal" fill="#000" >/E</text>
<text x="445.9" y="211.7" font-size="4.8" text-anchor="start" font-weight="bold" font-style="normal" fill="#000" >0</text>
</svg></body></html>
